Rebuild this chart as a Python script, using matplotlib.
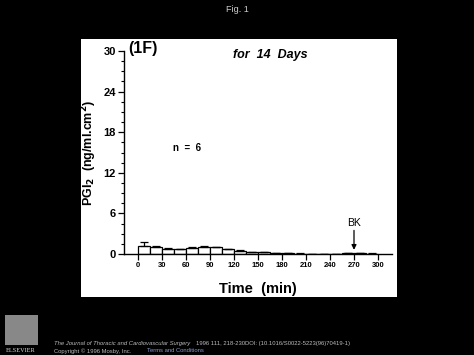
import numpy as np
import matplotlib
matplotlib.use("Agg")
import matplotlib.pyplot as plt
from matplotlib.patches import Rectangle
from matplotlib.ticker import MultipleLocator

plt.rcParams['font.family'] = ['Liberation Sans', 'DejaVu Sans']

# 15-min collection periods, bars start at 0 min
time_start = [0, 15, 30, 45, 60, 75, 90, 105, 120, 135,
              150, 165, 180, 195, 210, 225, 240, 255, 270, 285]
pgi2 = [1.25, 1.05, 0.8, 0.7, 0.95, 1.05, 1.0, 0.75, 0.5, 0.3,
        0.28, 0.12, 0.08, 0.06, 0.05, 0.05, 0.05, 0.08, 0.1, 0.06]
pgi2_err = [0.45, 0.08, 0.05, 0.05, 0.07, 0.08, 0.07, 0.06, 0.05, 0.04,
            0.05, 0.03, 0.02, 0.02, 0.02, 0.02, 0.02, 0.02, 0.03, 0.02]
x_ticks = [0, 30, 60, 90, 120, 150, 180, 210, 240, 270, 300]
y_ticks = [0, 6, 12, 18, 24, 30]

fig = plt.figure(figsize=(4.74, 3.55), dpi=100)
fig.patch.set_facecolor('black')

# white figure panel (behind the axes)
fig.patches.append(Rectangle((81 / 474, 1 - 297 / 355), 316 / 474, 258 / 355,
                             transform=fig.transFigure, facecolor='white',
                             edgecolor='none', zorder=-5))

ax = fig.add_axes([124 / 474, 1 - 254 / 355, 268 / 474, 203 / 355])
ax.set_facecolor('none')
ax.set_zorder(2)

ax.bar(time_start, pgi2, width=15, align='edge', facecolor='white',
       edgecolor='black', linewidth=0.9)
ax.errorbar(np.array(time_start) + 7.5, pgi2, yerr=[np.zeros(len(pgi2)), pgi2_err],
            fmt='none', ecolor='black', elinewidth=0.9, capsize=3, capthick=0.9)

ax.set_xlim(-17.5, 317.5)
ax.set_ylim(0, 30)
ax.spines['top'].set_visible(False)
ax.spines['right'].set_visible(False)
ax.spines['left'].set_linewidth(1.0)
ax.spines['bottom'].set_linewidth(1.0)

ax.set_xticks(x_ticks)
ax.set_yticks(y_ticks)
ax.yaxis.set_minor_locator(MultipleLocator(1.5))
ax.tick_params(axis='x', direction='out', length=4, width=0.9, labelsize=5.5, pad=2)
ax.tick_params(axis='y', which='major', direction='out', length=4, width=0.9,
               labelsize=8, pad=2)
ax.tick_params(axis='y', which='minor', direction='out', length=2, width=0.8)
for lab in ax.get_xticklabels() + ax.get_yticklabels():
    lab.set_fontweight('bold')

ax.set_xlabel('Time  (min)', fontsize=10.5, fontweight='bold', labelpad=9)
ax.set_ylabel(r'PGI$_\mathbf{2}$  (ng/ml.cm$^\mathbf{2}$)', fontsize=9,
              fontweight='bold')
ax.yaxis.set_label_coords(-0.092, 0.5)

ax.text(-12.5, 30.3, '(1F)', fontsize=11.5, fontweight='bold', ha='left', va='center')
ax.text(166, 29.4, 'for  14  Days', fontsize=9, fontweight='bold', style='italic',
        ha='center', va='center')
ax.text(61, 15.7, 'n  =  6', fontsize=7, fontweight='bold', ha='center', va='center')
ax.text(270, 4.6, 'BK', fontsize=7.5, ha='center', va='center')
ax.annotate('', xy=(270, 0.2), xytext=(270, 3.9),
            arrowprops=dict(arrowstyle='-|>', color='black', lw=0.9,
                            mutation_scale=7))

# page furniture
fig.text(0.5, 1 - 10 / 355, 'Fig. 1', color='#cccccc', fontsize=6.5,
         ha='center', va='center')
fig.text(54 / 474, 1 - 343 / 355,
         'The Journal of Thoracic and Cardiovascular Surgery',
         color='#bbbbbb', fontsize=4.2, style='italic', ha='left', va='center')
fig.text(196 / 474, 1 - 343 / 355,
         '1996 111, 218-230DOI: (10.1016/S0022-5223(96)70419-1)',
         color='#bbbbbb', fontsize=4.2, ha='left', va='center')
fig.text(54 / 474, 1 - 351 / 355, 'Copyright \u00a9 1996 Mosby, Inc.',
         color='#bbbbbb', fontsize=4.2, ha='left', va='center')
fig.text(147 / 474, 1 - 351 / 355, 'Terms and Conditions',
         color='#8899cc', fontsize=4.2, ha='left', va='center')
fig.patches.append(Rectangle((5 / 474, 1 - 345 / 355), 33 / 474, 30 / 355,
                             transform=fig.transFigure, facecolor='#888888',
                             edgecolor='none', zorder=-5))
fig.text(21 / 474, 1 - 351 / 355, 'ELSEVIER', color='#dddddd', fontsize=4.5,
         family='Liberation Serif', ha='center', va='center')

fig.savefig('out.png', dpi=100, facecolor='black')
